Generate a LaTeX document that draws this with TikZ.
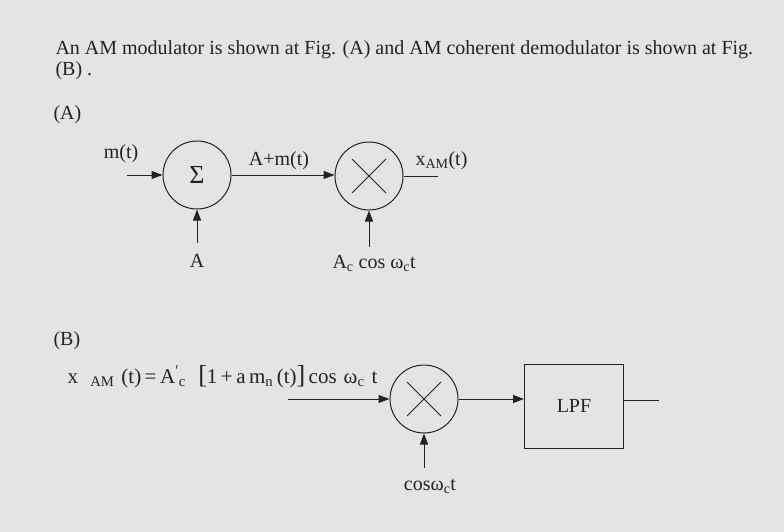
\documentclass[tikz,border=0pt]{standalone}
\usepackage{fontspec}
\setmainfont{Liberation Serif}
\usetikzlibrary{positioning,arrows.meta,calc}
\definecolor{paper}{RGB}{228,228,228}
\definecolor{ink}{RGB}{35,35,35}

\tikzset{
  lbl/.style={text=ink,font=\fontsize{20}{22}\selectfont,inner sep=0pt},
  blk/.style={draw=ink,circle,minimum size=68pt,inner sep=0pt},
  mult/.style={blk,path picture={
      \draw[ink] ([shift={(-17,-17)}]path picture bounding box.center) -- ([shift={(17,17)}]path picture bounding box.center);
      \draw[ink] ([shift={(-17,17)}]path picture bounding box.center) -- ([shift={(17,-17)}]path picture bounding box.center);}},
  filt/.style={draw=ink,minimum width=99pt,minimum height=84pt},
}

\begin{document}
\begin{tikzpicture}[x=1pt,y=-1pt,color=ink,line width=1pt,>={Triangle[length=11pt,width=8pt]}]
\fill[paper] (0,0) rectangle (784,532);
\useasboundingbox (0,0) rectangle (784,532);

% text above the figures
\node (intro) [lbl,anchor=base west,align=left,font=\fontsize{20}{21}\selectfont] at (55,76) {An AM modulator is shown at Fig. (A) and AM coherent demodulator is shown at Fig.\\(B) .};
\node (figa) [lbl,anchor=base west] at (53,120) {(A)};

% (A) modulator
\node (sum) [blk] at (197,175) {\fontsize{26}{26}\selectfont Σ};
\node (mixa) [mult] at (369,176) {};
\coordinate (min) at (127,175);
\coordinate (aout) at (438,176);
\coordinate (ain) at (197,243);
\coordinate (cin) at (369,247);

\draw[->] (min) -- (sum);
\draw[->] (sum.east) -- (sum.east -| mixa.west);
\draw (mixa) -- (aout);
\draw[->] (ain) -- (sum);
\draw[->] (cin) -- (mixa);

\node (mlbl) [lbl,anchor=base] at (121,158) {m(t)};
\node (sumlbl) [lbl,anchor=base] at (279,165) {A+m(t)};
\node (xlbl) [lbl,anchor=base west] at (415,165) {x\textsubscript{AM}(t)};
\node (albl) [lbl,anchor=base] at (197,267) {A};
\node (clbl) [lbl,anchor=base west] at (332,268) {A\textsubscript{c} cos ω\textsubscript{c}t};

% (B) coherent demodulator
\node (figb) [lbl,anchor=base west] at (53,345) {(B)};
\node (eq) [lbl,anchor=base west,font=\fontsize{21}{22}\selectfont] at (67,383) {x\,\, \textsubscript{AM}\,\,(t)\,=\,A\textsuperscript{′}\textsubscript{c}\,\, {\fontsize{26}{26}\selectfont[}1\,+\,a\,m\textsubscript{n}\,(t){\fontsize{26}{26}\selectfont]}\,cos\,\,ω\textsubscript{c}\,\,t};
\node (mixb) [mult] at (424,399) {};
\node (lpf) [filt,lbl] at (574,406) {LPF};
\coordinate (bin) at (288,399);
\coordinate (bout) at (659,400);
\coordinate (cosin) at (424,468);

\draw[->] (bin) -- (mixb);
\draw[->] (mixb.east) -- (mixb.east -| lpf.west);
\draw (lpf.east |- bout) -- (bout);
\draw[->] (cosin) -- (mixb);
\node (coslbl) [lbl,anchor=base] at (430,490) {cosω\textsubscript{c}t};
\end{tikzpicture}
\end{document}
